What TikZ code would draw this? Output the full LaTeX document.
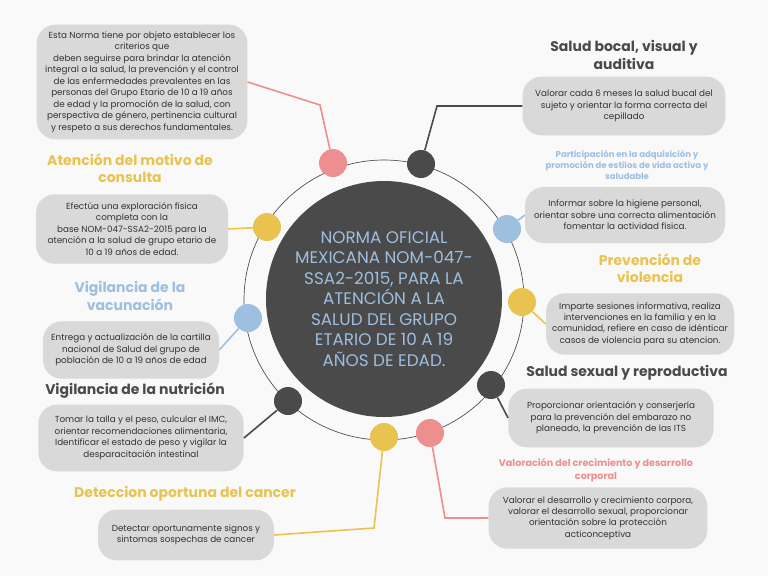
\documentclass[tikz,border=0pt]{standalone}
\usepackage{fontspec}
\setmainfont{Poppins}
\definecolor{cpink}{HTML}{EE8E8E}
\definecolor{cyel}{HTML}{E8C34F}
\definecolor{cblue}{HTML}{9DBFE0}
\definecolor{cdark}{HTML}{4A4A4A}
\definecolor{cbox}{HTML}{D9D9D9}
\definecolor{cbg}{HTML}{F9F9F9}
\definecolor{ctxt}{HTML}{333333}
\begin{document}
\begin{tikzpicture}[x=0.75pt,y=-0.75pt,
 body/.style={fill=cbox,rounded corners=14pt,align=center,font=\fontsize{6.6}{8.6}\selectfont,text=ctxt,inner sep=2pt},
 ttl/.style={font=\fontsize{10.5}{13}\selectfont\bfseries,align=center},
 dot/.style={circle,minimum size=21pt,inner sep=0pt,fill=#1},
 con/.style={draw=#1,line width=1.2pt}]
\fill[cbg] (0,0) rectangle (768,576);
\useasboundingbox (0,0) rectangle (768,576);
% ring
\draw[cdark,line width=0.5pt] (384,300) circle[radius=140];
\node[circle,fill=cdark,minimum size=177pt,inner sep=0pt,text=cblue,align=center,
 font=\fontsize{12.6}{15.4}\selectfont] (c) at (384,299)
 {NORMA OFICIAL\\MEXICANA NOM-047-\\SSA2-2015, PARA LA\\ATENCIÓN A LA\\SALUD DEL GRUPO\\ETARIO DE 10 A 19\\AÑOS DE EDAD.};
% boxes
\node[body,minimum width=158pt,minimum height=86pt] (b1) at (142,82) {Esta Norma tiene por objeto establecer los\\criterios que\\deben seguirse para brindar la atención\\integral a la salud, la prevención y el control\\de las enfermedades prevalentes en las\\personas del Grupo Etario de 10 a 19 años\\de edad y la promoción de la salud, con\\perspectiva de género, pertinencia cultural\\y respeto a sus derechos fundamentales.};
\node[ttl,text=cyel] (t2) at (130,168) {Atención del motivo de\\consulta};
\node[body,minimum width=144pt,minimum height=52pt] (b2) at (132,229) {Efectúa una exploración física\\completa con la\\base NOM-047-SSA2-2015 para la\\atención a la salud de grupo etario de\\10 a 19 años de edad.};
\node[ttl,text=cblue] (t3) at (130,296) {Vigilancia de la\\vacunación};
\node[body,minimum width=132pt,minimum height=43pt] (b3) at (131,350) {Entrega y actualización de la cartilla\\nacional de Salud del grupo de\\población de 10 a 19 años de edad};
\node[ttl,text=cdark] (t4) at (135,391) {Vigilancia de la nutrición};
\node[body,minimum width=154pt,minimum height=50pt] (b4) at (141,438) {Tomar la talla y el peso, culcular el IMC,\\orientar recomendaciones alimentaria,\\Identificar el estado de peso y vigilar la\\desparacitación intestinal};
\node[ttl,text=cyel] (t5) at (185,494) {Deteccion oportuna del cancer};
\node[body,minimum width=132pt,minimum height=38pt] (b5) at (186,535) {Detectar oportunamente signos y\\sintomas sospechas de cancer};
\node[ttl,text=cdark] (t6) at (624,55) {Salud bocal, visual y\\auditiva};
\node[body,minimum width=152pt,minimum height=44pt] (b6) at (624,106) {Valorar cada 6 meses la salud bucal del\\sujeto y orientar la forma correcta del\\cepillado};
\node[ttl,text=cblue,font=\fontsize{6.4}{8.6}\selectfont\bfseries] (t7) at (627,165) {Participación en la adquisición y\\promoción de estilos de vida activa y\\saludable};
\node[body,minimum width=150pt,minimum height=42pt] (b7) at (625,215) {Informar sobre la higiene personal,\\orientar sobre una correcta alimentación\\fomentar la actividad física.};
\node[ttl,text=cyel] (t8) at (650,268) {Prevención de\\violencia};
\node[body,minimum width=141pt,minimum height=46pt] (b8) at (640,324) {Imparte sesiones informativa, realiza\\intervenciones en la familia y en la\\comunidad, refiere en caso de idénticar\\casos de violencia para su atencion.};
\node[ttl,text=cdark] (t9) at (627,373) {Salud sexual y reproductiva};
\node[body,minimum width=154pt,minimum height=44pt] (b9) at (611,418) {Proporcionar orientación y conserjería\\para la prevención del embarazo no\\planeado, la prevención de las ITS};
\node[ttl,text=cpink,font=\fontsize{7.2}{10}\selectfont\bfseries] (t10) at (596,470) {Valoración del crecimiento y desarrollo\\corporal};
\node[body,minimum width=164pt,minimum height=46pt] (b10) at (598,518) {Valorar el desarrollo y crecimiento corpora,\\valorar el desarrollo sexual, proporcionar\\orientación sobre la protección\\acticonceptiva};
% dots
\node[dot=cpink] (d1) at (333,163) {};
\node[dot=cdark] (d2) at (421,164) {};
\node[dot=cyel] (d3) at (267,227) {};
\node[dot=cblue] (d4) at (507,229) {};
\node[dot=cyel] (d5) at (522,302) {};
\node[dot=cblue] (d6) at (248,318) {};
\node[dot=cdark] (d7) at (288,401) {};
\node[dot=cdark] (d8) at (491,385) {};
\node[dot=cyel] (d9) at (384,437) {};
\node[dot=cpink] (d10) at (430,433) {};
% connectors
\coordinate (k1) at (320,105);
\coordinate (k2) at (437,106);
\coordinate (k9) at (374,528);
\coordinate (k10) at (445,518);
\begin{scope}[on background layer/.style={}]
\draw[con=cpink] (d1) -- (k1) -- (b1.east);
\draw[con=cdark] (d2) -- (k2) -- (b6.west);
\draw[con=cyel] (d3) -- (b2.east);
\draw[con=cblue] (d4) -- (b7.west);
\draw[con=cyel] (d5) -- (b8.west);
\draw[con=cblue] (d6) -- (b3.east);
\draw[con=cdark] (d7) -- (b4.east);
\draw[con=cdark] (d8) -- (b9.west);
\draw[con=cyel] (d9) -- (k9) -- (b5.east);
\draw[con=cpink] (d10) -- (k10) -- (b10.west);
\end{scope}
\end{tikzpicture}
\end{document}
